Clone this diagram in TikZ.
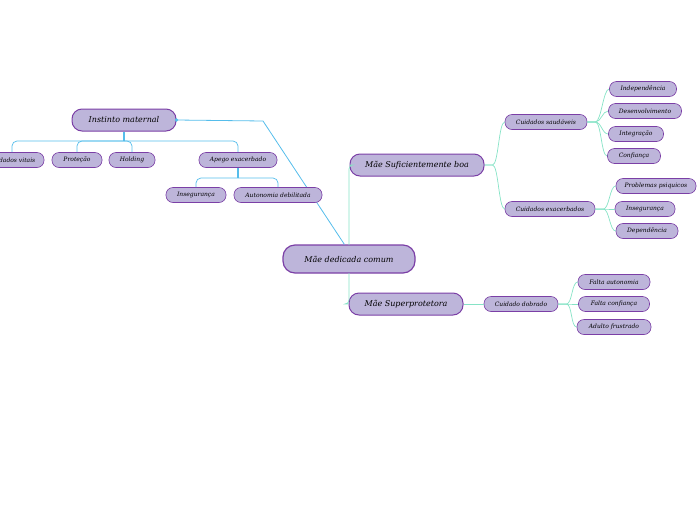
\documentclass[tikz,border=0pt]{standalone}
\usepackage{fontspec}
\setmainfont{DejaVu Serif}
\begin{document}
\begin{tikzpicture}[x=1pt,y=-1pt]
\definecolor{lav}{HTML}{BDB5DA}
\definecolor{pur}{HTML}{7B3FA6}
\definecolor{bl}{HTML}{55BDEB}
\definecolor{gr}{HTML}{86E3C6}
\tikzset{
 base/.style={draw=pur,fill=lav,rounded corners=7pt,inner sep=0pt,font=\itshape\fontsize{6}{7}\selectfont,text=black},
 small/.style={base,minimum height=15pt,line width=0.6pt},
 mid/.style={base,minimum height=22pt,font=\itshape\footnotesize,line width=1pt,rounded corners=10pt},
 big/.style={base,minimum height=28pt,font=\itshape\footnotesize,line width=1.2pt,rounded corners=12pt},
 bline/.style={draw=bl,line width=0.7pt,rounded corners=5pt},
 gline/.style={draw=gr,line width=0.7pt}
}
\useasboundingbox (0,0) rectangle (697,520);
\node[big,minimum width=132pt] (c) at (349,259) {Mãe dedicada comum};
\node[mid,minimum width=104pt] (im) at (124,120) {Instinto maternal};
% left main connector drawn first so it runs behind nodes
\coordinate (k) at (263,121);
\draw[draw=bl,line width=0.8pt] (c.north west) ++(62,0) -- (k) -- (im.east);
\fill[bl] (im.east) circle (1.8pt);
\node[small,minimum width=64pt] (cv) at (12,160) {Cuidados vitais};
\node[small,minimum width=50pt] (pr) at (77,160) {Proteção};
\node[small,minimum width=46pt] (ho) at (132,160) {Holding};
\node[small,minimum width=78pt] (ap) at (238,160) {Apego exacerbado};
\node[small,minimum width=60pt] (in1) at (196,195) {Insegurança};
\node[small,minimum width=88pt] (ad) at (278,195) {Autonomia debilitada};
\node[mid,minimum width=134pt] (ms) at (417,165) {Mãe Suficientemente boa};
\node[mid,minimum width=114pt] (mp) at (406,304) {Mãe Superprotetora};
\node[small,minimum width=82pt] (cs) at (546,122) {Cuidados saudáveis};
\node[small,minimum width=90pt] (ce) at (550,209) {Cuidados exacerbados};
\node[small,minimum width=67pt] (id) at (643,89) {Independência};
\node[small,minimum width=73pt] (de) at (645,111) {Desenvolvimento};
\node[small,minimum width=55pt] (ig) at (636,134) {Integração};
\node[small,minimum width=53pt] (co) at (634,156) {Confiança};
\node[small,minimum width=80pt] (pp) at (656,186) {Problemas psiquicos};
\node[small,minimum width=60pt] (in2) at (645,209) {Insegurança};
\node[small,minimum width=62pt] (dp) at (647,231) {Dependência};
\node[small,minimum width=74pt] (cd) at (521,304) {Cuidado dobrado};
\node[small,minimum width=72pt] (fa) at (614,282) {Falta autonomia};
\node[small,minimum width=71pt] (fc) at (614,304) {Falta confiança};
\node[small,minimum width=74pt] (af) at (614,327) {Adulto frustrado};
\coordinate (b1) at (124,141);
\draw[draw=bl,line width=1.5pt] (im.south) -- (b1);
\foreach \n in {cv,pr,ho,ap} \draw[bline] (b1) -| (\n.north);
\coordinate (b2) at (238,178);
\draw[draw=bl,line width=1.2pt] (ap.south) -- (b2);
\foreach \n in {in1,ad} \draw[bline] (b2) -| (\n.north);
% right
\draw[gline,rounded corners=4pt] (ms.west) -| (349,245);
\draw[gline,rounded corners=4pt] (mp.west) -| (349,273);
\foreach \a/\n in {ms/cs,ms/ce,cs/id,cs/de,cs/ig,cs/co,ce/pp,ce/in2,ce/dp,cd/fa,cd/fc,cd/af}
  \draw[gline] (\a.east) -- ++(8,0) .. controls +(6,0) and +(-6,0) .. (\n.west);
\draw[gline] (mp.east) -- (cd.west);
\end{tikzpicture}
\end{document}
